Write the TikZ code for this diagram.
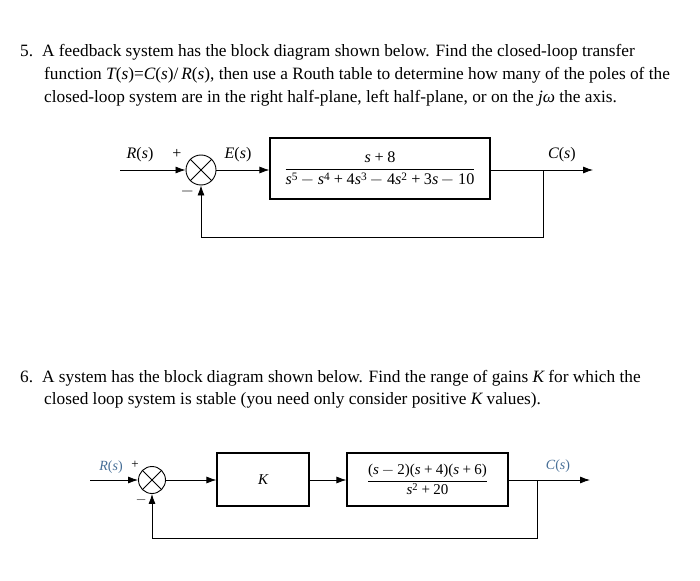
\documentclass[tikz,border=0pt]{standalone}
\usepackage{fontspec}
\setmainfont{Liberation Serif}
\usepackage{unicode-math}
\setmathfont{Latin Modern Math}
\setmathfont[range=it]{Liberation Serif Italic}
\setmathfont[range={up,"2B,"2212,"3D,"28,"29,"2F}]{Liberation Serif}
\usetikzlibrary{arrows.meta}
\definecolor{lblue}{RGB}{70,110,150}
\begin{document}
\begin{tikzpicture}[x=1pt,y=-1pt,
  txt/.style={anchor=west,inner sep=0pt,font=\fontsize{17.3}{20}\selectfont},
  lbl/.style={inner sep=0pt,font=\fontsize{16}{19}\selectfont},
  blk/.style={draw,line width=1.2pt,inner sep=0pt},
  sum/.style={draw,circle,line width=0.9pt,inner sep=0pt},
  arr/.style={-{Latex[length=10pt,width=7pt]},line width=0.8pt},
  ln/.style={line width=0.8pt}]
\useasboundingbox (0,0) rectangle (700,580);
% text
\node[txt] (q5a) at (20,52) {5.\hspace{9pt}A feedback system has the block diagram shown below. Find the closed-loop transfer};
\node[txt] (q5b) at (44,75) {function $T(s){=}C(s)/\,R(s)$, then use a Routh table to determine how many of the poles of the};
\node[txt] (q5c) at (44,98) {closed-loop system are in the right half-plane, left half-plane, or on the $j\omega$ the axis.};
\node[txt] (q6a) at (20,378) {6.\hspace{9pt}A system has the block diagram shown below. Find the range of gains $K$ for which the};
\node[txt] (q6b) at (44,400) {closed loop system is stable (you need only consider positive $K$ values).};
% diagram 1
\node[sum,minimum size=30pt] (s1) at (201,170) {};
\draw[line width=0.9pt] (s1.north west)--(s1.south east) (s1.north east)--(s1.south west);
\node[blk,minimum width=220pt,minimum height=61pt] (g1) at (380,168.5) {\fontsize{16.2}{19}\selectfont$\dfrac{s+8}{s^5-s^4+4s^3-4s^2+3s-10}$};
\coordinate (in1) at (120,170);
\coordinate (b1) at (543,170);
\coordinate (out1) at (593,170);
\coordinate (f1) at (543,237);
\coordinate (f1b) at (201,237);
\draw[arr] (in1)--(s1);
\draw[arr] (s1)--(g1.west|-s1);
\draw[ln] (g1.east|-b1)--(b1);
\draw[arr] (b1)--(out1);
\draw[ln] (b1)--(f1)--(f1b);
\draw[arr] (f1b)--(s1);
\node[lbl] (r1) at (140,155) {$R(s)$};
\node[lbl] (p1) at (177,154) {$+$};
\node[lbl] (m1) at (188,193) {$-$};
\node[lbl] (e1) at (238,155) {$E(s)$};
\node[lbl] (c1) at (562,155) {$C(s)$};
% diagram 2
\node[sum,minimum size=27pt] (s2) at (152,480) {};
\draw[line width=0.9pt] (s2.north west)--(s2.south east) (s2.north east)--(s2.south west);
\node[blk,minimum width=92pt,minimum height=53pt] (k2) at (263,479.5) {\fontsize{15}{18}\selectfont$K$};
\node[blk,minimum width=161pt,minimum height=53pt] (g2) at (427.5,479.5) {\fontsize{15}{18}\selectfont$\dfrac{(s-2)(s+4)(s+6)}{s^2+20}$};
\coordinate (in2) at (90,480);
\coordinate (b2) at (537,480);
\coordinate (out2) at (590,480);
\coordinate (f2) at (537,538);
\coordinate (f2b) at (152,538);
\draw[arr] (in2)--(s2);
\draw[arr] (s2)--(k2.west|-s2);
\draw[arr] (k2.east|-s2)--(g2.west|-s2);
\draw[ln] (g2.east|-b2)--(b2);
\draw[arr] (b2)--(out2);
\draw[ln] (b2)--(f2)--(f2b);
\draw[arr] (f2b)--(s2);
\node[lbl,text=lblue] (r2) at (111,467) {\fontsize{14}{16}\selectfont$R(s)$};
\node[lbl] (p2) at (135,465) {\fontsize{13}{15}\selectfont$+$};
\node[lbl] (m2) at (142,502) {\fontsize{13}{15}\selectfont$-$};
\node[lbl,text=lblue] (c2) at (558,466) {\fontsize{14}{16}\selectfont$C(s)$};
\end{tikzpicture}
\end{document}
